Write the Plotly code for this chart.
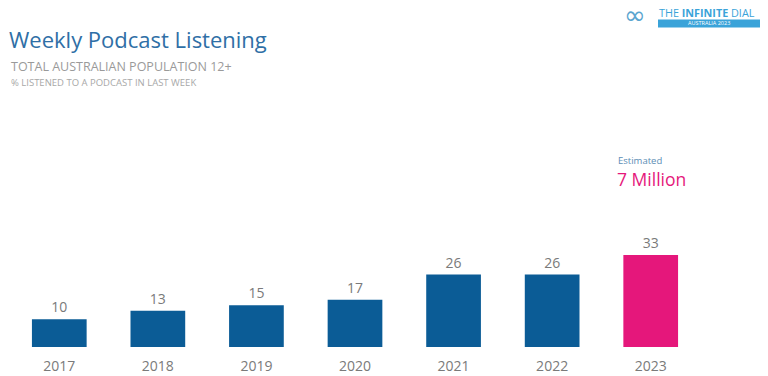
import plotly.graph_objects as go

years = ["2017", "2018", "2019", "2020", "2021", "2022", "2023"]
values = [10, 13, 15, 17, 26, 26, 33]
bar_colors = ["#0b5c96"] * 6 + ["#e5177b"]

W, H = 768, 376
L, R, T, B = 10, 68, 152, 29
PW, PH = W - L - R, H - T - B


def px(x):
    return (x - L) / PW


def py(y):
    return (H - B - y) / PH


fig = go.Figure(
    go.Bar(
        x=years,
        y=values,
        marker=dict(color=bar_colors, line=dict(width=0)),
        width=0.555,
        text=[str(v) for v in values],
        textposition="outside",
        textfont=dict(family="Open Sans", size=14, color="#7a7a7a"),
        cliponaxis=False,
        hoverinfo="skip",
    )
)

font = "Open Sans"
ann = [
    dict(x=px(7), y=py(39), text="Weekly Podcast Listening",
         font=dict(family=font, size=22, color="#2f6fa6")),
    dict(x=px(9), y=py(66), text="TOTAL AUSTRALIAN POPULATION 12+",
         font=dict(family=font, size=12.5, color="#9a9a9a")),
    dict(x=px(9), y=py(83), text="% LISTENED TO A PODCAST IN LAST WEEK",
         font=dict(family=font, size=9.5, color="#a8a8a8")),
    dict(x=px(616), y=py(160), text="Estimated",
         font=dict(family=font, size=9.5, color="#5b8db5")),
    dict(x=px(615), y=py(179), text="7 Million",
         font=dict(family=font, size=17.5, color="#e5177b")),
    dict(x=px(622), y=py(15), text="∞",
         font=dict(family="DejaVu Sans", size=26, color="#5aa5cf")),
    dict(x=px(657), y=py(12.5), text="THE <b>INFINITE</b> DIAL",
         font=dict(family=font, size=10.8, color="#3aa3d9")),
    dict(x=px(709), y=py(23.5), text="AUSTRALIA 2023", xanchor="center",
         font=dict(family=font, size=5.5, color="#ffffff")),
]
for a in ann:
    a.setdefault("xanchor", "left")
    a.update(xref="paper", yref="paper", yanchor="middle", showarrow=False)

shapes = [
    dict(type="rect", xref="paper", yref="paper",
         x0=px(658), x1=px(760), y0=py(19.5), y1=py(27.5),
         fillcolor="#3aa3d9", line=dict(width=0), layer="below"),
]

fig.update_layout(
    width=W, height=H,
    margin=dict(l=L, r=R, t=T, b=B, autoexpand=False),
    paper_bgcolor="white", plot_bgcolor="white",
    showlegend=False,
    annotations=ann,
    shapes=shapes,
    xaxis=dict(showgrid=False, showline=False, zeroline=False,
               automargin=False,
               ticks="outside", ticklen=6, tickcolor="white",
               tickfont=dict(family=font, size=14, color="#7a7a7a"),
               fixedrange=True),
    yaxis=dict(range=[0, 70], visible=False, automargin=False, fixedrange=True),
)

fig.write_html(
    "out.html",
    config={"displayModeBar": False},
    post_script=(
        "document.body.style.margin='0';document.body.style.overflow='hidden';"
        "var d=document.getElementById('{plot_id}');"
        "d.style.position='fixed';d.style.top='0px';d.style.left='0px';"
    ),
)
